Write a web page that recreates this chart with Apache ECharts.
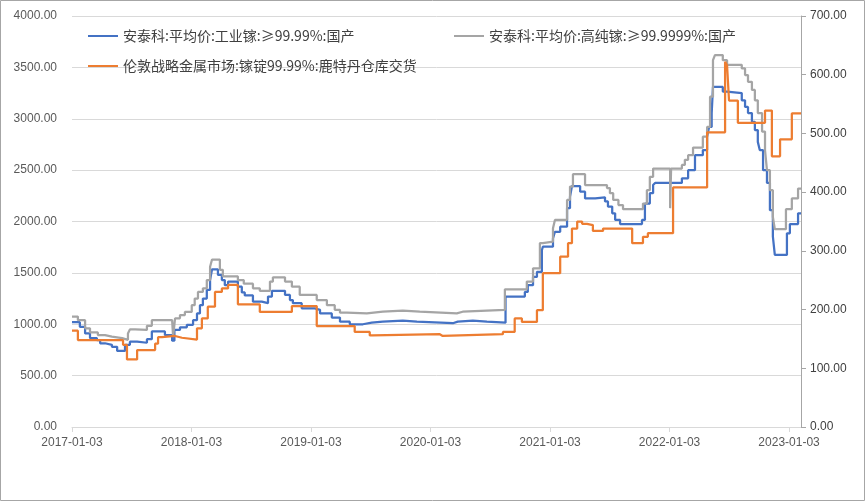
<!DOCTYPE html>
<html><head><meta charset="utf-8">
<script src="https://cdn.jsdelivr.net/npm/echarts@6/dist/echarts.min.js"></script>
<style>html,body{margin:0;padding:0;background:#fff}#c{width:865px;height:501px}</style>
</head><body><div id="c"></div>
<script>
const axisStart = '2017-01-03';
const axisEnd = '2023-02-09';
const xTickLabels = ['2017-01-03','2018-01-03','2019-01-03','2020-01-03','2021-01-03','2022-01-03','2023-01-03'];
const seriesNames = ['安泰科:平均价:工业镓:≥99.99%:国产','安泰科:平均价:高纯镓:≥99.9999%:国产','伦敦战略金属市场:镓锭99.99%:鹿特丹仓库交货'];

const industrialDates = ['2017-01-03','2017-01-27','2017-02-12','2017-02-27','2017-03-20','2017-03-30','2017-04-14','2017-05-05','2017-05-21','2017-06-14','2017-06-29','2017-07-21','2017-08-20','2017-09-04','2017-10-14','2017-11-05','2017-11-12','2017-11-29','2017-12-20','2018-01-08','2018-01-20','2018-01-29','2018-02-07','2018-02-19','2018-03-01','2018-03-07','2018-03-25','2018-04-06','2018-04-15','2018-04-25','2018-05-25','2018-06-06','2018-06-15','2018-07-10','2018-08-06','2018-08-25','2018-09-06','2018-10-16','2018-10-31','2018-11-09','2018-12-06','2019-01-15','2019-01-31','2019-03-08','2019-04-02','2019-05-02','2019-06-11','2019-07-08','2019-08-11','2019-10-11','2019-11-23','2020-03-12','2020-03-27','2020-05-12','2020-06-24','2020-08-20','2020-10-18','2020-10-27','2020-11-12','2020-11-24','2020-12-09','2020-12-12','2021-01-12','2021-01-18','2021-02-03','2021-02-24','2021-03-05','2021-03-11','2021-04-05','2021-04-20','2021-05-21','2021-06-20','2021-06-29','2021-07-12','2021-07-21','2021-08-05','2021-10-11','2021-10-20','2021-11-04','2021-11-14','2021-11-20','2022-02-10','2022-03-01','2022-03-22','2022-04-15','2022-04-28','2022-05-04','2022-05-12','2022-05-16','2022-06-15','2022-06-28','2022-08-12','2022-08-22','2022-08-31','2022-09-12','2022-09-21','2022-09-30','2022-10-06','2022-10-16','2022-10-28','2022-11-06','2022-11-15','2022-11-21','2022-12-28','2023-01-06','2023-01-31','2023-02-09'];
const industrialValues = [1020,975,910,865,845,815,800,780,740,800,830,820,855,930,895,840,945,970,995,1040,1105,1185,1250,1335,1430,1535,1480,1430,1380,1415,1365,1310,1280,1220,1205,1270,1325,1285,1235,1205,1155,1140,1105,1065,1025,1000,1015,1025,1035,1025,1010,1025,1035,1025,1015,1270,1315,1380,1460,1510,1720,1755,1835,1900,1950,2130,2240,2345,2290,2225,2235,2195,2145,2080,2015,1975,2015,2175,2275,2355,2375,2420,2500,2645,2695,2825,2920,3055,3310,3265,3250,3180,3115,3055,2970,2890,2775,2695,2500,2375,2110,1855,1675,1885,1975,2080,2080];

const highPurityDates = ['2017-01-03','2017-01-21','2017-02-12','2017-02-27','2017-03-23','2017-04-14','2017-05-05','2017-06-05','2017-06-23','2017-06-29','2017-07-15','2017-08-20','2017-09-04','2017-11-05','2017-11-08','2017-11-14','2017-11-29','2017-12-14','2018-01-04','2018-01-13','2018-01-23','2018-02-07','2018-02-19','2018-03-01','2018-03-07','2018-03-31','2018-04-09','2018-05-25','2018-06-12','2018-07-10','2018-07-31','2018-08-31','2018-09-09','2018-10-16','2018-11-06','2018-11-30','2019-01-21','2019-02-21','2019-03-17','2019-04-02','2019-04-23','2019-06-23','2019-08-11','2019-10-11','2019-12-02','2020-03-24','2020-04-11','2020-08-18','2020-10-24','2020-11-12','2020-12-03','2020-12-12','2021-01-12','2021-01-18','2021-02-24','2021-03-05','2021-03-14','2021-04-20','2021-06-26','2021-07-05','2021-07-15','2021-07-31','2021-08-14','2021-10-14','2021-10-26','2021-11-04','2021-11-14','2022-01-05','2022-01-08','2022-02-10','2022-02-19','2022-03-01','2022-03-16','2022-04-15','2022-04-28','2022-05-07','2022-05-16','2022-05-22','2022-06-15','2022-06-28','2022-08-12','2022-08-22','2022-08-31','2022-09-12','2022-09-21','2022-09-30','2022-10-13','2022-10-22','2022-10-28','2022-11-06','2022-11-15','2022-11-21','2022-12-25','2023-01-12','2023-01-31','2023-02-09'];
const highPurityValues = [1075,1040,960,920,895,880,865,848,910,950,945,985,1040,1025,880,1058,1090,1120,1185,1250,1315,1350,1430,1560,1630,1530,1465,1430,1395,1350,1325,1415,1457,1415,1365,1285,1235,1185,1140,1112,1106,1122,1132,1122,1106,1122,1139,1340,1415,1545,1790,1805,1935,2015,2210,2340,2460,2355,2325,2275,2210,2160,2120,2175,2305,2435,2515,2130,2515,2550,2600,2645,2720,2825,2920,3215,3570,3620,3570,3525,3490,3425,3360,3280,3180,3055,2875,2695,2500,2305,2045,1925,2120,2225,2320,2320];

const londonDates = ['2017-01-03','2017-01-21','2017-06-08','2017-06-20','2017-07-21','2017-09-14','2017-09-23','2017-10-05','2017-11-14','2017-12-05','2018-01-20','2018-02-04','2018-02-22','2018-03-16','2018-04-06','2018-04-25','2018-05-25','2018-07-31','2018-11-06','2019-01-21','2019-05-17','2019-07-02','2019-07-11','2019-10-02','2020-02-01','2020-02-10','2020-08-12','2020-09-17','2020-10-09','2020-11-24','2020-12-12','2021-02-03','2021-02-27','2021-03-11','2021-03-27','2021-04-11','2021-04-26','2021-05-14','2021-06-14','2021-09-11','2021-10-14','2021-10-29','2022-01-14','2022-04-28','2022-06-22','2022-06-28','2022-07-04','2022-07-31','2022-10-22','2022-11-12','2022-12-07','2023-01-12','2023-02-09'];
const londonValues = [164,148,140,115,131,142,153,155,152,149,168,185,205,230,236,242,209,196,206,172,162,156,157,158,155,158,162,185,179,199,262,290,313,338,350,346,344,334,338,313,324,330,408,502,622,616,556,518,539,461,490,534,534];

const DAY = 86400000;
const t0 = Date.parse(axisStart + 'T00:00:00Z');
const toDays = s => (Date.parse(s + 'T00:00:00Z') - t0) / DAY;
const pairs = (ds, vs) => ds.map((d, i) => [toDays(d), vs[i]]);

const chart = echarts.init(document.getElementById('c'));
const labelFont = 'Liberation Sans';
const legendText = { color: '#404040', fontSize: 14, fontFamily: 'Noto Sans CJK SC' };
const legendBase = { orient: 'horizontal', icon: 'rect', itemWidth: 30, itemHeight: 2, textStyle: legendText, selectedMode: false };
chart.setOption({
  animation: false,
  backgroundColor: '#fff',
  graphic: [{ type: 'rect', shape: { x: 0.5, y: 0.5, width: 864, height: 500 }, style: { fill: 'none', stroke: '#a6a6a6', lineWidth: 1 }, silent: true }],
  grid: { left: 72, right: 64, top: 16, bottom: 74 },
  legend: [
    Object.assign({}, legendBase, { data: [seriesNames[0]], left: 83, top: 24 }),
    Object.assign({}, legendBase, { data: [seriesNames[1]], left: 449, top: 24 }),
    Object.assign({}, legendBase, { data: [seriesNames[2]], left: 83, top: 54 })
  ],
  xAxis: {
    type: 'value', min: 0, max: toDays(axisEnd), interval: 365.25,
    axisLine: { lineStyle: { color: '#d9d9d9', width: 1 } },
    axisTick: { show: true, length: 5, lineStyle: { color: '#d9d9d9' } },
    splitLine: { show: false },
    axisLabel: {
      showMaxLabel: false, margin: 10, color: '#595959', fontSize: 12, fontFamily: labelFont,
      formatter: v => { const k = Math.round(v / 365.25); return Math.abs(v - k * 365.25) < 1 ? (xTickLabels[k] || '') : ''; }
    }
  },
  yAxis: [
    {
      type: 'value', min: 0, max: 4000, interval: 500,
      axisLine: { show: false }, axisTick: { show: false },
      splitLine: { lineStyle: { color: '#d9d9d9', width: 1 } },
      axisLabel: { margin: 15, color: '#595959', fontSize: 12, fontFamily: labelFont, formatter: v => v.toFixed(2) }
    },
    {
      type: 'value', min: 0, max: 700, interval: 100, position: 'right',
      axisLine: { show: true, lineStyle: { color: '#a6a6a6', width: 1 } },
      axisTick: { show: true, length: 5, lineStyle: { color: '#a6a6a6' } },
      splitLine: { show: false },
      axisLabel: { margin: 9, color: '#404040', fontSize: 12, fontFamily: labelFont, formatter: v => v.toFixed(2) }
    }
  ],
  series: [
    { name: seriesNames[0], type: 'line', step: 'end', symbol: 'none', yAxisIndex: 0, color: '#4472C4', lineStyle: { width: 2.25, color: '#4472C4' }, data: pairs(industrialDates, industrialValues) },
    { name: seriesNames[1], type: 'line', step: 'end', symbol: 'none', yAxisIndex: 0, color: '#A5A5A5', lineStyle: { width: 2.25, color: '#A5A5A5' }, data: pairs(highPurityDates, highPurityValues) },
    { name: seriesNames[2], type: 'line', step: 'end', symbol: 'none', yAxisIndex: 1, color: '#ED7D31', lineStyle: { width: 2.25, color: '#ED7D31' }, data: pairs(londonDates, londonValues) }
  ]
});
</script>
</body></html>
